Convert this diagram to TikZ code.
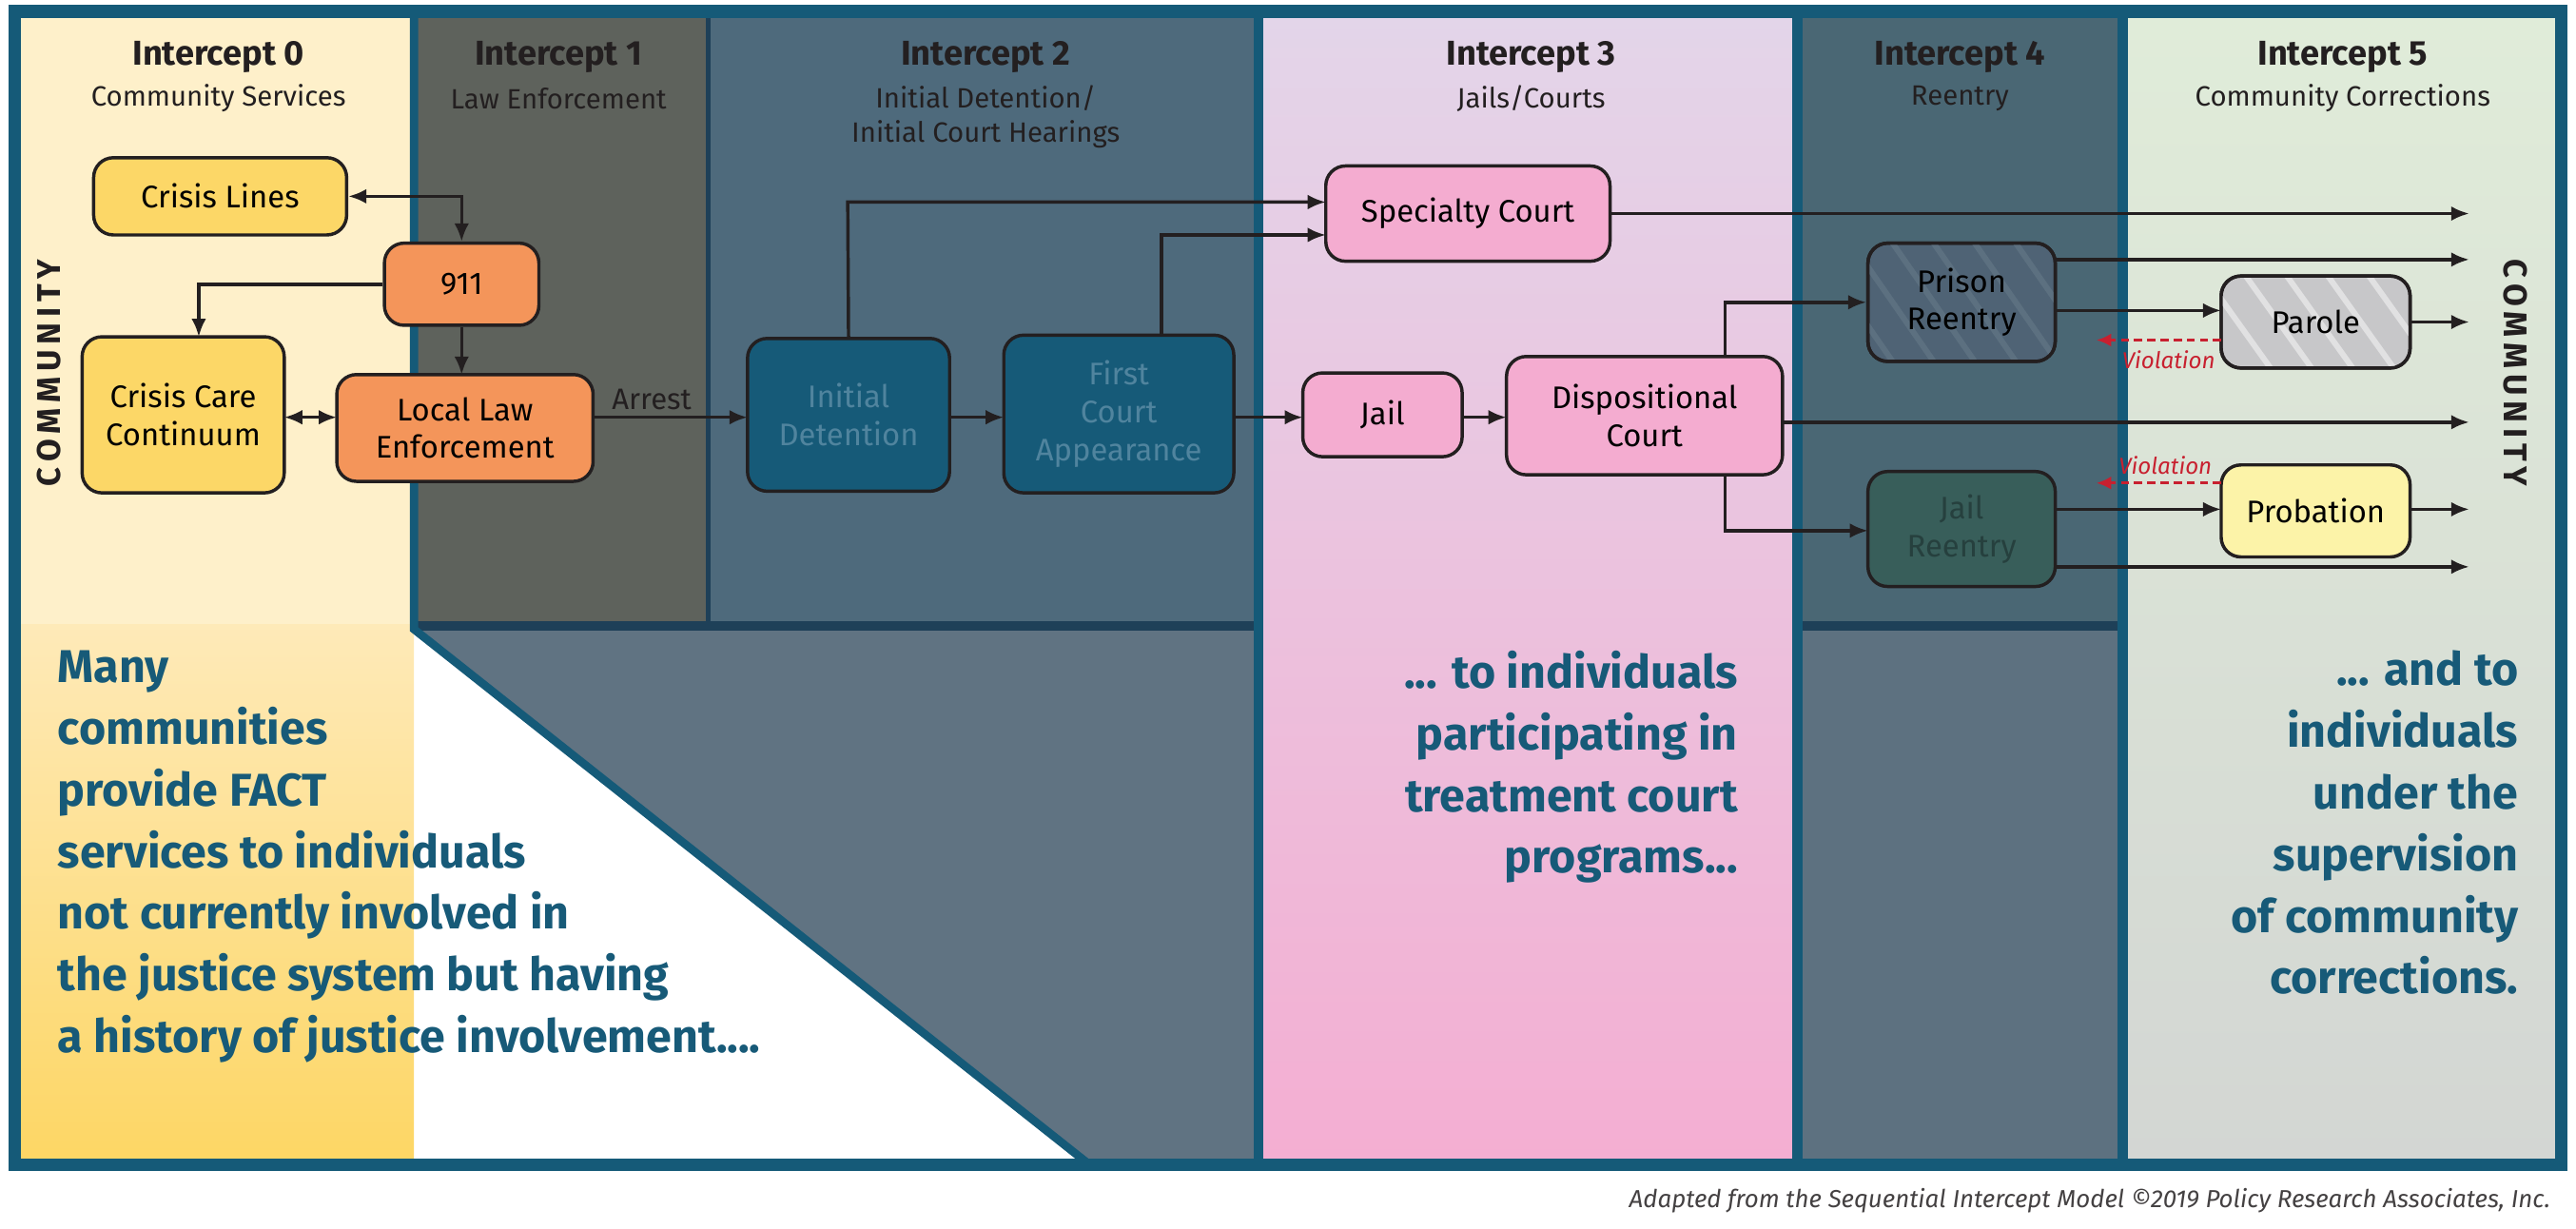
\documentclass[tikz,border=0pt]{standalone}
\usepackage{fontspec}
\setmainfont{Fira Sans}
\usetikzlibrary{arrows.meta}
\definecolor{teal}{HTML}{155A78}
\definecolor{dk}{HTML}{231F20}
\definecolor{yel}{HTML}{FCD767}
\definecolor{ora}{HTML}{F4955A}
\definecolor{pnk}{HTML}{F4ACD0}
\definecolor{blu}{HTML}{165A78}
\definecolor{txt}{HTML}{175A78}
\definecolor{sep}{HTML}{1E4058}
\definecolor{vio}{HTML}{C8202F}
\definecolor{c0top}{HTML}{FEF0CA}
\definecolor{c0bot}{HTML}{FDD664}
\definecolor{c0mid}{HTML}{FEEBBE}
\definecolor{c1}{HTML}{5E625C}
\definecolor{c2}{HTML}{4E6A7C}
\definecolor{cbot}{HTML}{607382}
\definecolor{c3top}{HTML}{E3D5E9}
\definecolor{c3bot}{HTML}{F4AED2}
\definecolor{c4}{HTML}{4A6774}
\definecolor{c4b}{HTML}{5D7180}
\definecolor{c5top}{HTML}{E0ECD9}
\definecolor{c5bot}{HTML}{D3D6D3}
\definecolor{dtxt}{HTML}{50849E}
\definecolor{prf}{HTML}{4F6375}
\definecolor{prh}{HTML}{5C7080}
\definecolor{paf}{HTML}{C7C7C9}
\definecolor{pah}{HTML}{E1E1E2}
\definecolor{jrf}{HTML}{385E5A}
\definecolor{jrt}{HTML}{26403E}
\definecolor{prb}{HTML}{FCF3A8}
\tikzset{
 box/.style={draw=dk,line width=2pt,rounded corners=12pt,align=center,font=\fontsize{19}{23}\selectfont,inner sep=0pt},
 arr/.style={draw=dk,line width=2pt,-{Latex[length=11pt,width=9pt]}},
 darr/.style={draw=dk,line width=2pt,{Latex[length=11pt,width=9pt]}-{Latex[length=11pt,width=9pt]}},
 vl/.style={draw=vio,line width=2pt,dash pattern=on 5pt off 3pt,-{Latex[length=9pt,width=8pt]}},
 vt/.style={text=vio,font=\itshape\fontsize{14}{16}\selectfont},
 hd/.style={font=\fontsize{21}{24}\selectfont\bfseries,text=dk},
 sh/.style={font=\fontsize{17}{21}\selectfont,text=dk,align=center},
 big/.style={font=\fontsize{28}{37.5}\selectfont\bfseries,text=txt,inner sep=0pt},
 hatch/.style={line width=3.5pt}
}
\begin{document}
\begin{tikzpicture}[x=1pt,y=-1pt]
\useasboundingbox (0,0) rectangle (1568,748);
\fill[white] (0,0) rectangle (1568,748);
% column backgrounds
\shade[top color=c0top,bottom color=c0bot,middle color=c0mid] (10,8) rectangle (252,708);
\fill[c0top] (10,8) rectangle (252,380);
\fill[c1] (252,8) rectangle (431,380);
\fill[c2] (431,8) rectangle (765,380);
\fill[cbot] (252,380) -- (765,380) -- (765,708) -- (660,708) -- cycle;
\shade[top color=c3top,bottom color=c3bot] (765,8) rectangle (1095,708);
\fill[c4] (1095,8) rectangle (1292,380);
\fill[c4b] (1095,380) rectangle (1292,708);
\shade[top color=c5top,bottom color=c5bot] (1292,8) rectangle (1556,708);
% separators
\draw[sep,line width=6pt] (252,381) -- (765,381);
\draw[sep,line width=6pt] (1095,381) -- (1292,381);
\draw[sep,line width=3pt] (431,8) -- (431,381);
\draw[teal,line width=5pt] (252,8) -- (252,383) -- (662,708);
\draw[teal,line width=6pt] (766,8) -- (766,708);
\draw[teal,line width=6pt] (1094,8) -- (1094,708);
\draw[teal,line width=6pt] (1292,8) -- (1292,708);
\draw[teal,line width=8pt] (9,7) rectangle (1559,709);
% headings
\node[hd] (h0) at (133,35) {Intercept 0};
\node[sh] (s0) at (133,60) {Community Services};
\node[hd] (h1) at (340,35) {Intercept 1};
\node[sh] (s1) at (340,60) {Law Enforcement};
\node[hd] (h2) at (600,35) {Intercept 2};
\node[sh] (s2) at (600,71) {Initial Detention/\\Initial Court Hearings};
\node[hd] (h3) at (932,35) {Intercept 3};
\node[sh] (s3) at (932,60) {Jails/Courts};
\node[hd] (h4) at (1193,35) {Intercept 4};
\node[sh] (s4) at (1193,60) {Reentry};
\node[hd] (h5) at (1426,35) {Intercept 5};
\node[sh] (s5) at (1426,60) {Community Corrections};
\node[rotate=90,font=\fontsize{20}{20}\selectfont\bfseries,text=dk] (cl) at (30,227) {C\,O\,M\,M\,U\,N\,I\,T\,Y};
\node[rotate=-90,font=\fontsize{20}{20}\selectfont\bfseries,text=dk] (cr) at (1531,227) {C\,O\,M\,M\,U\,N\,I\,T\,Y};
% nodes
\node[box,fill=yel,minimum width=154,minimum height=47] (cline) at (134,119.5) {Crisis Lines};
\node[box,fill=ora,minimum width=94,minimum height=50] (n911) at (281,173) {911};
\node[box,fill=yel,minimum width=123,minimum height=95] (ccc) at (111.5,252.5) {Crisis Care\\Continuum};
\node[box,fill=ora,minimum width=156,minimum height=65] (lle) at (283,260.5) {Local Law\\Enforcement};
\node[box,fill=blu,text=dtxt,minimum width=123,minimum height=93] (idet) at (516.5,252.5) {Initial\\Detention};
\node[box,fill=blu,text=dtxt,minimum width=140,minimum height=96] (fca) at (681,252) {First\\Court\\Appearance};
\node[box,fill=pnk,minimum width=173,minimum height=58] (spc) at (893.5,130) {Specialty Court};
\node[box,fill=pnk,minimum width=97,minimum height=51] (jail) at (841.5,252.5) {Jail};
\node[box,fill=pnk,minimum width=168,minimum height=72] (disp) at (1001,253) {Dispositional\\Court};
\node[box,fill=prf,minimum width=114,minimum height=72] (pre) at (1194,184) {};
\begin{scope}
\clip[rounded corners=12pt] (1137,148) rectangle (1251,220);
\foreach \i in {-60,-35,...,140}{\draw[hatch,prh] (1137+\i,148) -- (1137+\i+50,220);}
\end{scope}
\node[box,minimum width=114,minimum height=72] (pre2) at (1194,184) {Prison\\Reentry};
\node[box,fill=paf,minimum width=115,minimum height=56] (par) at (1409.5,196) {};
\begin{scope}
\clip[rounded corners=12pt] (1352,168) rectangle (1467,224);
\foreach \i in {-60,-35,...,140}{\draw[hatch,pah] (1352+\i,168) -- (1352+\i+40,224);}
\end{scope}
\node[box,minimum width=115,minimum height=56] (par2) at (1409.5,196) {Parole};
\node[box,fill=jrf,text=jrt,minimum width=114,minimum height=70] (jre) at (1194,322) {Jail\\Reentry};
\node[box,fill=prb,minimum width=115,minimum height=56] (prob) at (1409.5,311) {Probation};
% end coordinates
\coordinate (e1) at (1503,130);
\coordinate (e2) at (1503,158);
\coordinate (e3) at (1503,196);
\coordinate (e4) at (1503,257);
\coordinate (e5) at (1503,310);
\coordinate (e6) at (1503,345);
% connectors
\draw[darr] (cline.east) -- (281,119.5) -- (n911.north);
\draw[arr] (n911.west) -- (121,173) -- (121,205);
\draw[arr] (n911.south) -- (281,228);
\draw[darr] (173,254) -- (205,254);
\draw[arr] (361,254) -- node[above,font=\fontsize{18}{20}\selectfont,text=dk,pos=0.38] {Arrest} (455,254);
\draw[arr] (578,254) -- (611,254);
\draw[arr] (751,254) -- (793,254);
\draw[arr] (890,254) -- (917,254);
\draw[arr] (idet.north) -- (516,123) -- (807,123);
\draw[arr] (707,204) -- (707,143) -- (807,143);
\draw[arr] (spc.east) -- (e1);
\draw[arr] (1251,158) -- (e2);
\draw[arr] (1251,189) -- (1352,189);
\draw[arr] (par.east) -- (e3);
\draw[arr] (1085,257) -- (e4);
\draw[arr] (1050,217) -- (1050,184) -- (pre.west);
\draw[arr] (1050,289) -- (1050,323) -- (1137,323);
\draw[arr] (1251,310) -- (1352,310);
\draw[arr] (1467,310) -- (e5);
\draw[arr] (1251,345) -- (e6);
\coordinate (v1) at (1276,207);
\coordinate (v2) at (1276,294);
\draw[vl] (1352,207) -- (v1);
\node[vt] (vt1) at (1320,219) {Violation};
\draw[vl] (1352,294) -- (v2);
\node[vt] (vt2) at (1318,283) {Violation};
% big texts
\node[big,anchor=north west,align=left] (t0) at (35,396) {Many\\communities\\provide FACT\\services to individuals\\not currently involved in\\the justice system but having\\a history of justice involvement....};
\node[big,anchor=north east,align=right] (t3) at (1058,396) {... to individuals\\participating in\\treatment court\\programs...};
\node[big,anchor=north east,align=right] (t5) at (1533,396) {... and to\\individuals\\under the\\supervision\\of community\\corrections.};
\node[anchor=east,font=\itshape\fontsize{15}{17}\selectfont,text=dk!85] (cap) at (1556,731) {Adapted from the Sequential Intercept Model ©2019 Policy Research Associates, Inc.};
\end{tikzpicture}
\end{document}
